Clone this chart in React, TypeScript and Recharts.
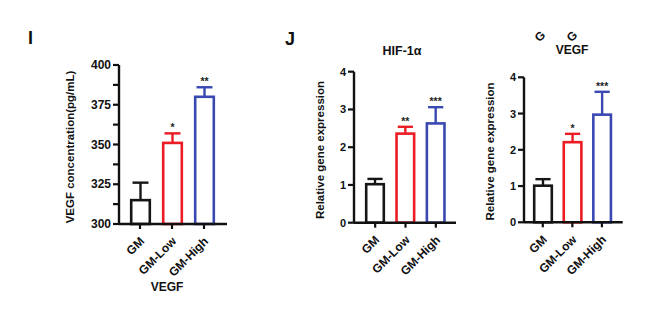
import { BarChart, Bar, XAxis, YAxis } from 'recharts';

const groups = ['GM', 'GM-Low', 'GM-High'];
const barColors = ['#161616', '#ec1c24', '#3a48b2'];

// I: VEGF ELISA
const vegfConc = [315, 351, 380];
const vegfConcErr = [11, 6, 6];
const vegfConcSig = ['', '*', '**'];
const vegfConcTicks = [300, 312.5, 325, 337.5, 350, 362.5, 375, 387.5, 400];

// J: qPCR
const hifExpr = [1.02, 2.36, 2.63];
const hifErr = [0.14, 0.18, 0.43];
const hifSig = ['', '**', '***'];

const vegfExpr = [1.01, 2.21, 2.97];
const vegfExprErr = [0.18, 0.23, 0.63];
const vegfExprSig = ['', '*', '***'];

const exprTicks = [0, 1, 2, 3, 4];

const FONT = '"Liberation Sans", Arial, sans-serif';

const rows = (vals: number[], errs: number[], sigs: string[]) =>
    groups.map((g, i) => ({ name: g, value: vals[i], err: errs[i], sig: sigs[i], color: barColors[i] }));

// open bar + upper error bar + stars, scale taken from the bar's own height
const outlineBar = (min: number) => (props: any) => {
    const { x, y, width, height, payload } = props;
    const k = height / (payload.value - min);
    const cx = x + width / 2;
    const yErr = y - payload.err * k;
    const cap = width * 0.38;
    return (
        <g>
            <rect x={x + 1.2} y={y} width={width - 2.4} height={height} fill="#fff" stroke={payload.color} strokeWidth={2.6} />
            <line x1={cx} y1={y} x2={cx} y2={yErr} stroke={payload.color} strokeWidth={2.4} />
            <line x1={cx - cap} y1={yErr} x2={cx + cap} y2={yErr} stroke={payload.color} strokeWidth={2.4} />
            {payload.sig && (
                <text x={cx} y={yErr - 2} textAnchor="middle" fontSize={10.5} fontWeight="bold" fontFamily={FONT} fill="#222">
                    {payload.sig}
                </text>
            )}
        </g>
    );
};

const XTick = (props: any) => {
    const { x, y, payload } = props;
    const tx = x + 5;
    const ty = y + 11;
    return (
        <text x={tx} y={ty} transform={`rotate(-45 ${tx} ${ty})`} textAnchor="end" fontSize={12} fontWeight="bold" fontFamily={FONT} fill="#111">
            {payload.value}
        </text>
    );
};

const YTick = (size: number, step: number) => (props: any) => {
    const { x, y, payload } = props;
    if (payload.value % step !== 0) return <g />;
    return (
        <text x={x} y={y} dy={4} textAnchor="end" fontSize={size} fontWeight="bold" fontFamily={FONT} fill="#111">
            {payload.value}
        </text>
    );
};

function Panel({ left, width, margin, data, domain, ticks, tickFont, step, barSize, pad }: any) {
    return (
        <div style={{ position: 'absolute', left, top: 0 }}>
            <BarChart width={width} height={300} data={data} margin={margin}>
                <XAxis
                    dataKey="name"
                    height={60}
                    padding={pad}
                    interval={0}
                    axisLine={{ stroke: '#111', strokeWidth: 2.4 }}
                    tickLine={{ stroke: '#111', strokeWidth: 2.2 }}
                    tickSize={5}
                    tick={<XTick />}
                />
                <YAxis
                    width={40}
                    domain={domain}
                    ticks={ticks}
                    interval={0}
                    axisLine={{ stroke: '#111', strokeWidth: 2.4 }}
                    tickLine={{ stroke: '#111', strokeWidth: 2.2 }}
                    tickSize={6}
                    tick={YTick(tickFont, step)}
                />
                <Bar dataKey="value" barSize={barSize} shape={outlineBar(domain[0])} isAnimationActive={false} />
            </BarChart>
        </div>
    );
}

const txt = { fontFamily: FONT, fontWeight: 'bold' as const, fill: '#111' };

export default function App() {
    return (
        <div style={{ position: 'fixed', left: 0, top: 0, width: 664, height: 328, background: '#fff', overflow: 'hidden' }}>
            <Panel
                left={0}
                width={240}
                margin={{ top: 65, right: 13, bottom: 16, left: 79 }}
                data={rows(vegfConc, vegfConcErr, vegfConcSig)}
                domain={[300, 400]}
                ticks={vegfConcTicks}
                tickFont={12}
                step={25}
                barSize={21}
                pad={{ left: 5, right: 7 }}
            />
            <Panel
                left={280}
                width={200}
                margin={{ top: 71.7, right: 24, bottom: 17.3, left: 34 }}
                data={rows(hifExpr, hifErr, hifSig)}
                domain={[0, 4]}
                ticks={exprTicks}
                tickFont={11}
                step={1}
                barSize={20}
                pad={{ left: 6, right: 5 }}
            />
            <Panel
                left={470}
                width={194}
                margin={{ top: 77.3, right: 41.3, bottom: 17.7, left: 14 }}
                data={rows(vegfExpr, vegfExprErr, vegfExprSig)}
                domain={[0, 4]}
                ticks={exprTicks}
                tickFont={11}
                step={1}
                barSize={20}
                pad={{ left: 4, right: 6 }}
            />
            <svg width={664} height={328} style={{ position: 'absolute', left: 0, top: 0, pointerEvents: 'none' }}>
                <defs>
                    <clipPath id="topcut">
                        <rect x={0} y={29} width={664} height={20} />
                    </clipPath>
                </defs>
                <text x={28} y={43.5} fontSize={18} {...txt}>I</text>
                <text x={285} y={45} fontSize={18} {...txt}>J</text>
                <text x={70} y={147} fontSize={11.5} textAnchor="middle" transform="rotate(-90 70 147)" dy={4} {...txt}>
                    VEGF concentration(pg/mL)
                </text>
                <text x={167} y={291} fontSize={12} textAnchor="middle" {...txt}>VEGF</text>
                <text x={402} y={54.5} fontSize={12.5} textAnchor="middle" {...txt}>HIF-1α</text>
                <text x={320} y={150} fontSize={11.5} textAnchor="middle" transform="rotate(-90 320 150)" dy={4} {...txt}>
                    Relative gene expression
                </text>
                <text x={572} y={54} fontSize={12} textAnchor="middle" {...txt}>VEGF</text>
                <text x={490} y={151.5} fontSize={11.5} textAnchor="middle" transform="rotate(-90 490 151.5)" dy={4} {...txt}>
                    Relative gene expression
                </text>
                <g clipPath="url(#topcut)">
                    <text x={546} y={36} fontSize={12} textAnchor="end" transform="rotate(-45 546 36)" {...txt}>G</text>
                    <text x={578} y={36} fontSize={12} textAnchor="end" transform="rotate(-45 578 36)" {...txt}>G</text>
                </g>
            </svg>
        </div>
    );
}
